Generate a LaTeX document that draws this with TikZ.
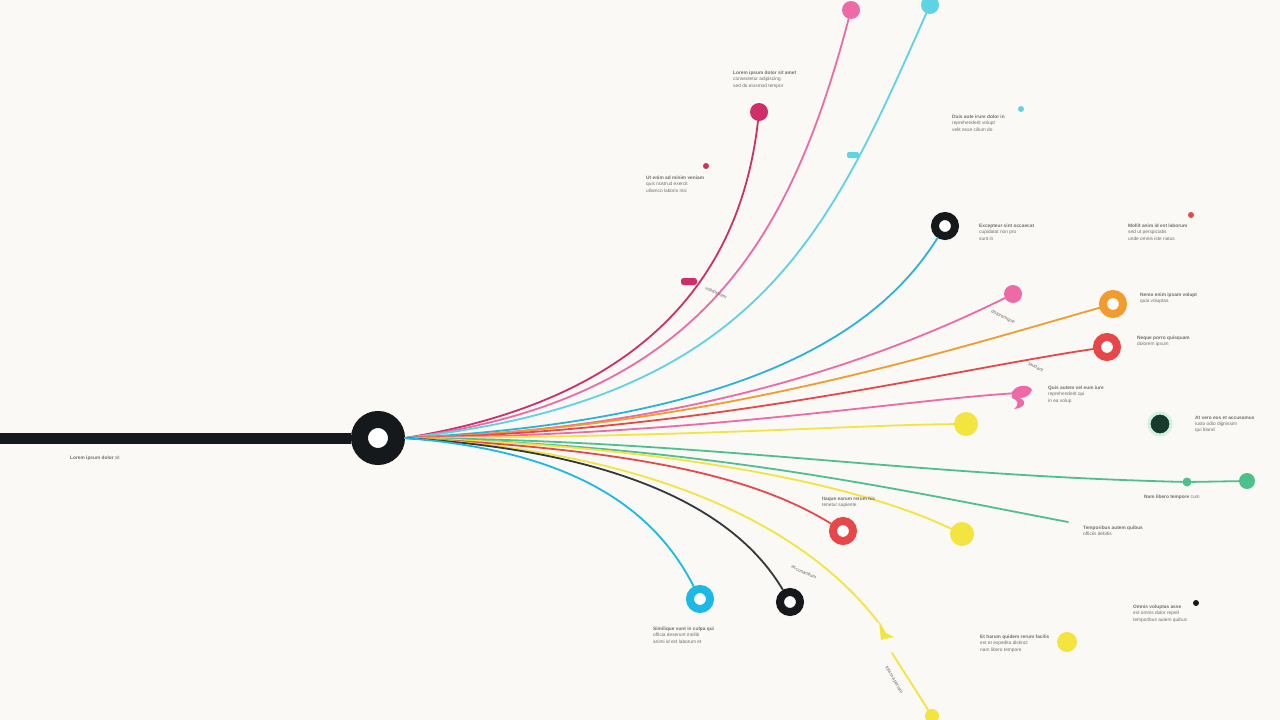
\documentclass[tikz,border=0pt]{standalone}
\usepackage{tikz}
\usepackage{fontspec}
\setmainfont{Liberation Sans}
\definecolor{bgc}{HTML}{FAF9F5}
\definecolor{cblack}{HTML}{15191C}
\definecolor{ccrim}{HTML}{CF2E68}
\definecolor{cpink}{HTML}{EE6AA7}
\definecolor{ccyan}{HTML}{5ED3E3}
\definecolor{cblue}{HTML}{2BB3D6}
\definecolor{corange}{HTML}{F29B2E}
\definecolor{cred}{HTML}{E8474A}
\definecolor{cyellow}{HTML}{F3E43F}
\definecolor{cgreen}{HTML}{4DC08E}
\definecolor{cdgreen}{HTML}{163A2C}
\definecolor{csky}{HTML}{1BB9E3}
\definecolor{cdark}{HTML}{33383C}
\definecolor{ctext}{HTML}{6E6E6E}
\begin{document}
\begin{tikzpicture}[x=1pt,y=-1pt,
  edge/.style={line width=1.8pt,line cap=round},
  ring/.style={circle,draw=#1,line width=8pt,fill=white,minimum size=20pt,inner sep=0pt},
  dotn/.style={circle,fill=#1,minimum size=18pt,inner sep=0pt},
  tiny/.style={circle,fill=#1,minimum size=6pt,inner sep=0pt},
  txt/.style={text=ctext,font=\fontsize{4.8}{6.2}\selectfont,align=left,anchor=north west,inner sep=0pt}]
\fill[bgc] (0,0) rectangle (1280,720);
\useasboundingbox (0,0) rectangle (1280,720);
% main line and hub
\coordinate (start) at (0,438);
\node[circle,draw=cblack,line width=17pt,fill=white,minimum size=37pt,inner sep=0pt] (hub) at (378,438) {};
\draw[cblack,line width=11pt] (start) -- (hub);
\node[txt] (lmain) at (70,456) {\textbf{Lorem ipsum dolor} sit};
% end nodes
\node[dotn=ccrim] (e1) at (759,112) {};
\node[dotn=cpink] (e2) at (851,10) {};
\node[dotn=ccyan] (e3) at (930,5) {};
\node[ring=cblack] (e4) at (945,226) {};
\node[dotn=cpink] (e5) at (1013,294) {};
\node[ring=corange] (e6) at (1113,304) {};
\node[ring=cred] (e7) at (1107,347) {};
\coordinate (e8) at (1018,393);
\node[dotn=cyellow,minimum size=24pt] (e9) at (966,424) {};
\node[dotn=cgreen,minimum size=16pt] (e10) at (1247,481) {};
\node[circle,fill=cgreen,minimum size=9pt,inner sep=0pt] (e10b) at (1187,482) {};
\coordinate (e11) at (1068,522);
\node[dotn=cyellow,minimum size=24pt] (e12) at (962,534) {};
\node[ring=cred] (e13) at (843,531) {};
\coordinate (e14) at (878,622);
\node[dotn=cyellow,minimum size=14pt] (e14b) at (932,716) {};
\node[ring=cblack] (e15) at (790,602) {};
\node[ring=csky] (e16) at (700,599) {};
% curves
\draw[edge,ccrim] (hub.east) .. controls (640,400) and (740,280) .. (e1);
\draw[edge,cpink] (hub.east) .. controls (700,400) and (790,240) .. (e2);
\draw[edge,ccyan] (hub.east) .. controls (760,400) and (830,230) .. (e3);
\draw[edge,cblue] (hub.east) .. controls (750,420) and (880,330) .. (e4);
\draw[edge,cpink] (hub.east) .. controls (700,430) and (900,350) .. (e5);
\draw[edge,corange] (hub.east) .. controls (700,430) and (950,350) .. (e6);
\draw[edge,cred] (hub.east) .. controls (700,432) and (950,370) .. (e7);
\draw[edge,cpink] (hub.east) .. controls (700,435) and (900,400) .. (e8);
\draw[edge,cyellow] (hub.east) .. controls (700,437) and (850,425) .. (e9);
\draw[edge,cgreen] (hub.east) .. controls (700,440) and (900,475) .. (e10b) -- (e10);
\draw[edge,cgreen] (hub.east) .. controls (700,445) and (900,490) .. (e11);
\draw[edge,cyellow] (hub.east) .. controls (650,445) and (850,480) .. (e12);
\draw[edge,cred] (hub.east) .. controls (650,450) and (760,480) .. (e13);
\draw[edge,cyellow] (hub.east) .. controls (640,450) and (800,520) .. (e14);
\coordinate (e14c) at (892,653);
\draw[edge,cyellow] (e14c) -- (e14b);
\draw[edge,cdark] (hub.east) .. controls (600,450) and (730,500) .. (e15);
\draw[edge,csky] (hub.east) .. controls (560,450) and (650,500) .. (e16);
% small decorations
\fill[ccrim,rounded corners=2.5pt] (681,278) rectangle (697,285);
\fill[ccyan,rounded corners=2pt] (847,152) rectangle (859,158);
\fill[cyellow] (879,621) -- (881,640) -- (894,637) -- (886,633) -- cycle;
\fill[cpink] (1012,392) .. controls (1018,383) and (1030,385) .. (1032,390)
  .. controls (1030,396) and (1024,398) .. (1020,398)
  .. controls (1028,402) and (1024,408) .. (1014,409)
  .. controls (1020,404) and (1018,400) .. (1012,398) -- cycle;
% isolated dots
\node[tiny=ccrim] (d1) at (706,166) {};
\node[tiny=ccyan] (d2) at (1021,109) {};
\node[tiny=cred] (d3) at (1191,215) {};
\node[tiny=cblack] (d4) at (1196,603) {};
\node[dotn=cyellow,minimum size=20pt] (d5) at (1067,642) {};
\node[circle,fill=cdgreen,draw=cgreen!25,line width=3pt,minimum size=22pt,inner sep=0pt] (d6) at (1160,424) {};
% text blocks
\node[txt] (t1) at (733,71) {\textbf{Lorem ipsum dolor sit amet}\\consectetur adipiscing\\sed do eiusmod tempor};
\node[txt] (t2) at (646,176) {\textbf{Ut enim ad minim veniam}\\quis nostrud exercit\\ullamco laboris nisi};
\node[txt] (t3) at (952,115) {\textbf{Duis aute irure dolor in}\\reprehenderit volupt\\velit esse cillum do};
\node[txt] (t4) at (979,224) {\textbf{Excepteur sint occaecat}\\cupidatat non pro\\sunt in};
\node[txt] (t5) at (1128,224) {\textbf{Mollit anim id est laborum}\\sed ut perspiciatis\\unde omnis iste natus};
\node[txt] (t6) at (1140,293) {\textbf{Nemo enim ipsam volupt}\\quia voluptas};
\node[txt] (t7) at (1137,336) {\textbf{Neque porro quisquam}\\dolorem ipsum};
\node[txt] (t8) at (1048,386) {\textbf{Quis autem vel eum iure}\\reprehenderit qui\\in ea volup};
\node[txt] (t9) at (1195,416) {\textbf{At vero eos et accusamus}\\iusto odio dignissim\\qui bland};
\node[txt] (t10) at (1144,495) {\textbf{Nam libero tempore} cum};
\node[txt] (t11) at (1083,526) {\textbf{Temporibus autem quibus}\\officiis debitis};
\node[txt] (t12) at (822,497) {\textbf{Itaque earum rerum hic}\\tenetur sapiente};
\node[txt] (t13) at (653,627) {\textbf{Similique sunt in culpa qui}\\officia deserunt molliti\\animi id est laborum et};
\node[txt] (t14) at (980,635) {\textbf{Et harum quidem rerum facilis}\\est et expedita distinct\\nam libero tempore};
\node[txt] (t15) at (1133,605) {\textbf{Omnis voluptas asse}\\est omnis dolor repell\\temporibus autem quibus};
\node[txt,rotate=-25,anchor=center] (t16) at (716,293) {voluptatem};
\node[txt,rotate=-25,anchor=center] (t17) at (804,572) {accusantium};
\node[txt,rotate=-25,anchor=center] (t18) at (1003,317) {doloremque};
\node[txt,rotate=-25,anchor=center] (t19) at (1036,367) {laudant};
\node[txt,rotate=-60,anchor=center] (t20) at (894,680) {totam aperiam};
\end{tikzpicture}
\end{document}
